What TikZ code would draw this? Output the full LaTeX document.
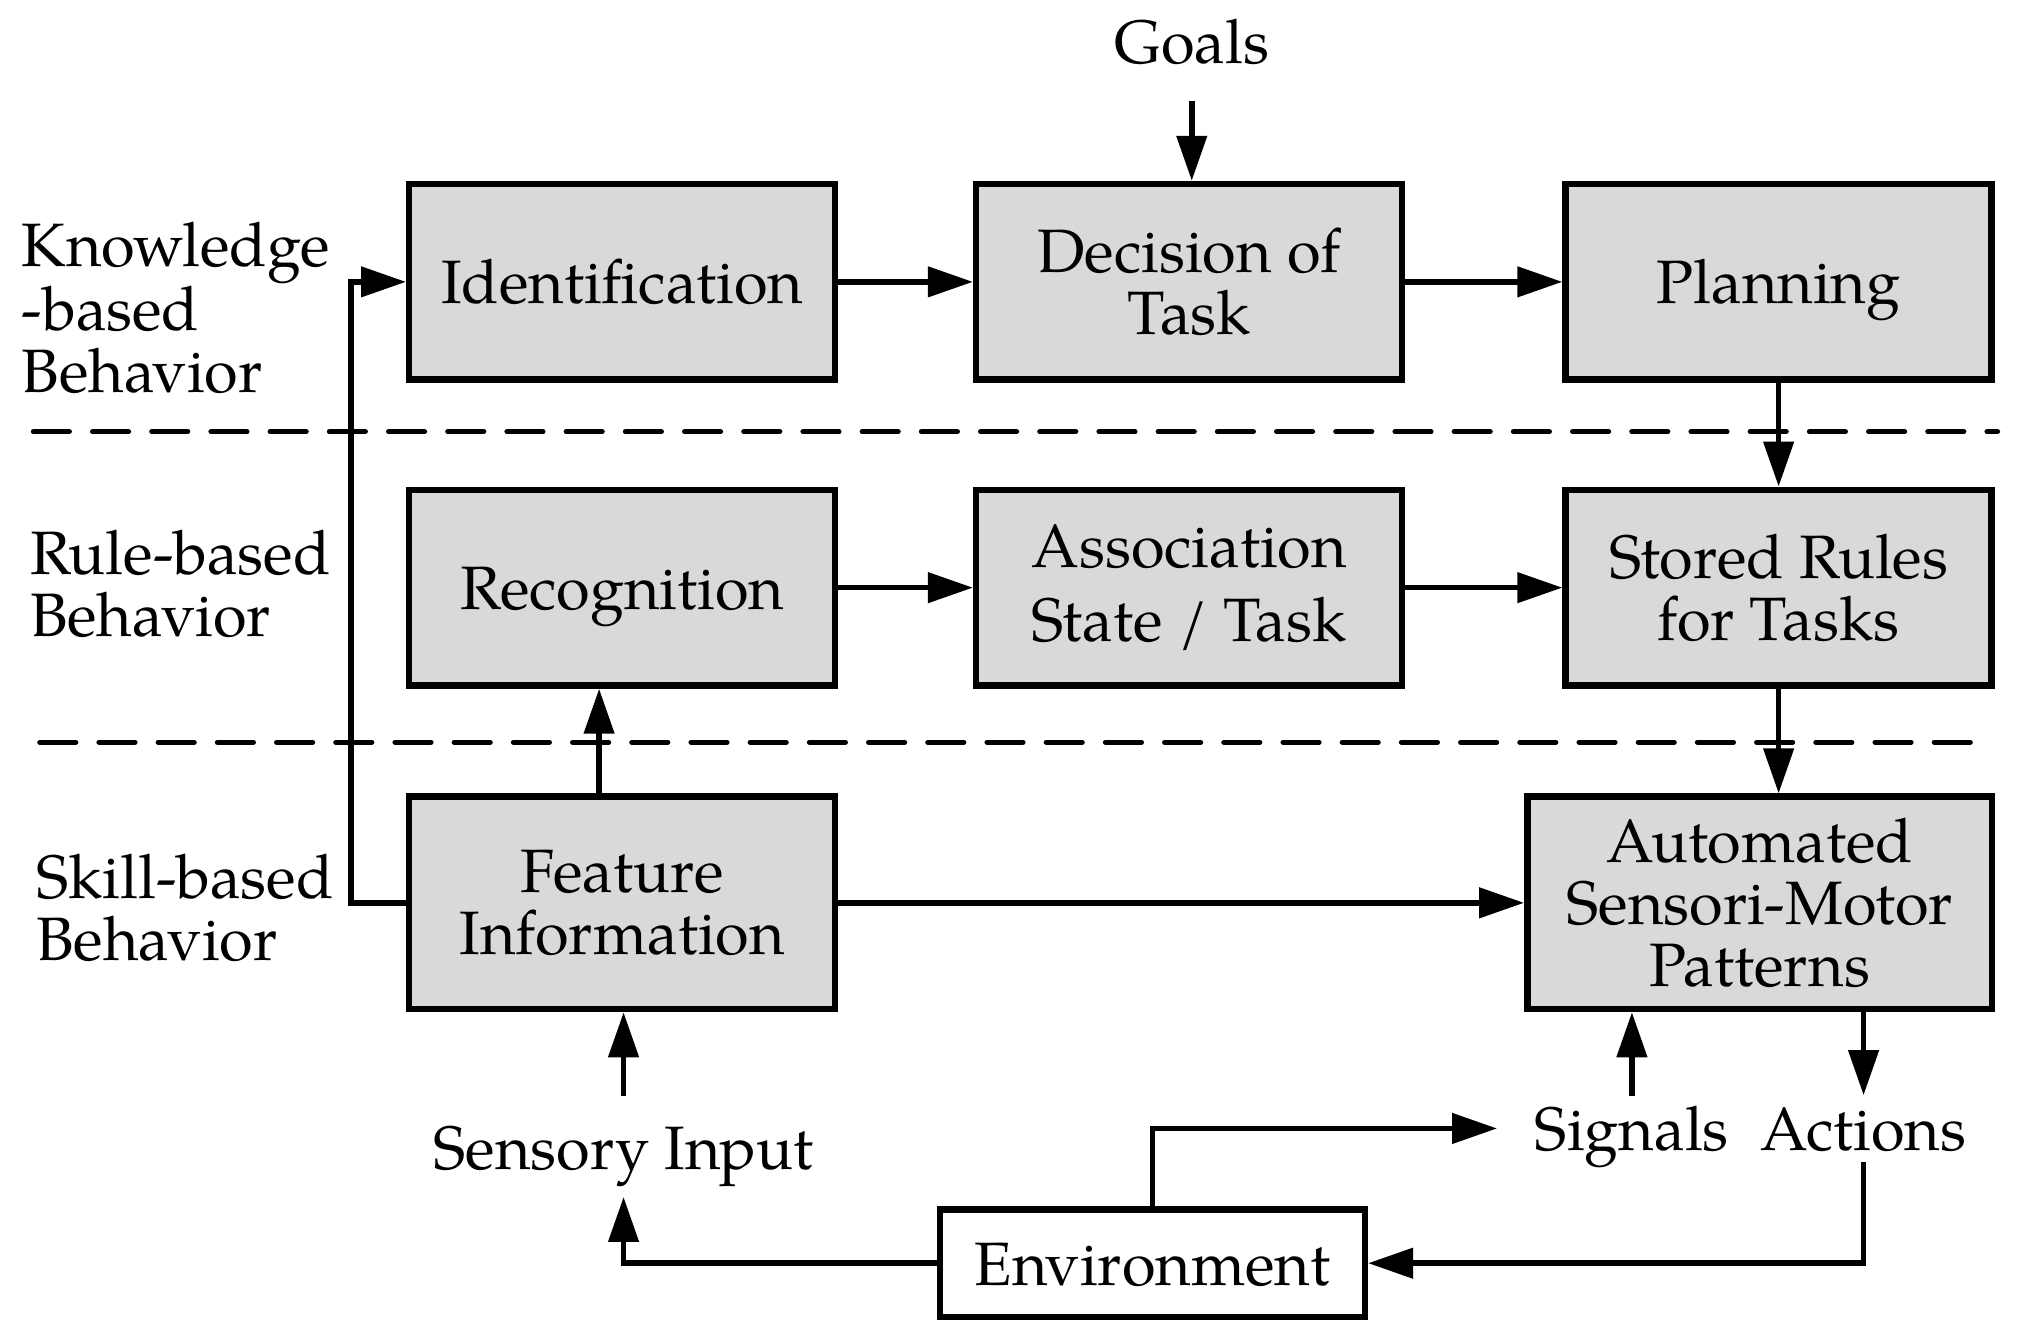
\documentclass[tikz,border=0pt]{standalone}
\usepackage{fontspec}
\setmainfont{TeX Gyre Pagella}
\usetikzlibrary{arrows.meta}
\definecolor{boxgray}{RGB}{217,217,217}
\newcommand\figfont{\fontsize{23.8}{24}\selectfont}
\begin{document}
\begin{tikzpicture}[x=0.5pt,y=-0.5pt,
  box/.style={draw, line width=2.5pt, fill=boxgray, align=center, font=\figfont,
    minimum width=165.5pt, minimum height=76pt, inner sep=0pt},
  onel/.style={text height=17.2pt, text depth=0pt},
  lbl/.style={font=\figfont, align=left, inner sep=0pt, anchor=north west},
  txt/.style={font=\figfont, text height=17.2pt, text depth=0pt},
  arr/.style={line width=2.2pt, -{Triangle[length=17.5pt,width=11.5pt]}},
  dsh/.style={line width=2.1pt, dash pattern=on 13.9pt off 9.1pt, line cap=round}]
\useasboundingbox (0,0) rectangle (1568,1040);

% dashed separators
\coordinate (d1a) at (26,335.4);
\coordinate (d1b) at (1552,335.4);
\coordinate (d2a) at (31,576.7);
\coordinate (d2b) at (1536,576.7);
\draw[dsh] (d1a) -- (d1b);
\draw[dsh] (d2a) -- (d2b);

% level labels
\node[lbl] (kb) at (16.5,172) {Knowledge\\-based\\Behavior};
\node[lbl] (rb) at (23,411.5) {Rule-based\\Behavior};
\node[lbl] (sb) at (28,663.5) {Skill-based\\Behavior};

% boxes
\node[box, onel] (ident) at (483.5,219) {Identification};
\node[box] (decision) at (924,219) {Decision of\\Task};
\node[box, onel] (planning) at (1382,219) {Planning};
\node[box, onel] (recog) at (483.5,456.6) {Recognition};
\node[box] (assoc) at (924,456.6) {Association\\[4.5pt]State / Task};
\node[box] (stored) at (1382,456.6) {Stored Rules\\for Tasks};
\node[box, minimum height=82.5pt] (feature) at (483.5,701.5) {Feature\\Information};
\node[box, minimum width=180.5pt, minimum height=82.5pt] (auto) at (1367.3,701.5) {Automated\\Sensori-Motor\\Patterns};
\node[draw, line width=2.5pt, fill=white, font=\figfont, onel, inner sep=0pt,
  minimum width=165pt, minimum height=41.75pt] (env) at (895.5,981.5) {Environment};

% free text labels
\node[txt, anchor=base, inner ysep=14.5pt] (goals) at (926,49) {Goals};
\node[txt, anchor=base, inner ysep=11.3pt] (sensory) at (484.5,909) {Sensory Input};
\node[txt, anchor=base, inner ysep=3.8pt, inner xsep=14.5pt] (signals) at (1268,894) {Signals};
\node[txt, anchor=base, inner ysep=4.1pt] (actions) at (1448,894) {Actions};

% connectors
\coordinate (fbk) at (272.5,701.5);
\draw[arr] (goals.south) -- (goals.south |- decision.north);
\draw[arr] (ident) -- (decision);
\draw[arr] (decision) -- (planning);
\draw[arr] (planning.south) -- (planning.south |- stored.north);
\draw[arr] (recog) -- (assoc);
\draw[arr] (assoc) -- (stored);
\draw[arr] (stored.south) -- (stored.south |- auto.north);
\draw[arr] ([xshift=-9pt]feature.north) -- ([xshift=-9pt]recog.south);
\draw[arr] (feature.east) -- (feature.east -| auto.west);
\draw[arr] (feature.west) -- (fbk) |- (ident.west);
\draw[arr] (sensory.north) -- (sensory.north |- feature.south);
\draw[arr, shorten >=-1pt] (env.west) -| (sensory.south);
\draw[arr] (env.north) |- (signals.west);
\draw[arr] (signals.north) -- (signals.north |- auto.south);
\draw[arr] (auto.south -| actions.north) -- (actions.north);
\draw[arr] (actions.south) |- (env.east);
\end{tikzpicture}
\end{document}
